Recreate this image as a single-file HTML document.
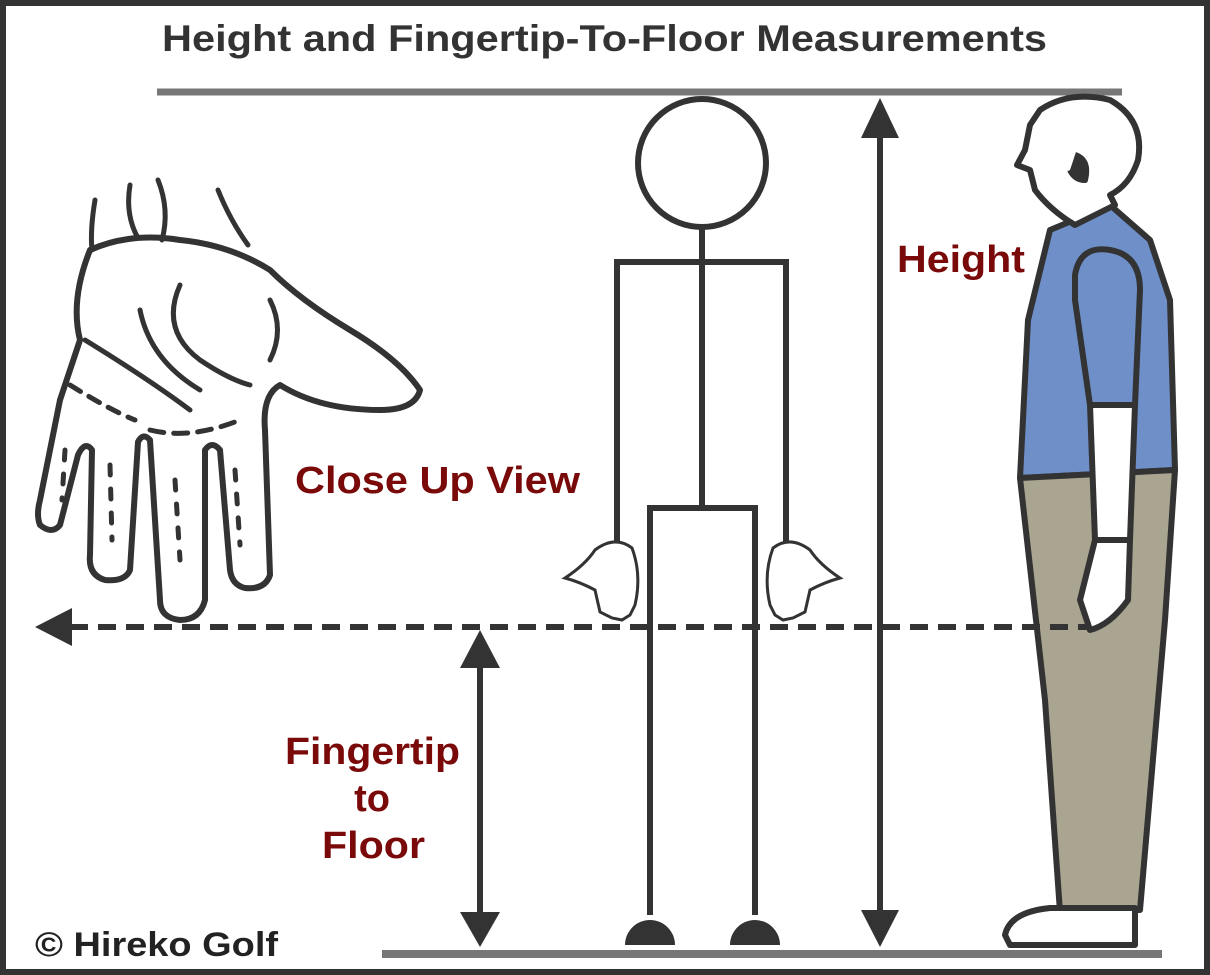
<!DOCTYPE html>
<html><head><meta charset="utf-8"><style>
html,body{margin:0;padding:0;background:#fff}
svg{display:block}
text{font-family:"Liberation Sans",Arial,sans-serif;font-weight:bold}
</style></head><body>
<svg width="1210" height="975" viewBox="0 0 1210 975" xmlns="http://www.w3.org/2000/svg">
<rect x="3" y="3" width="1204" height="969" fill="#fff" stroke="#333" stroke-width="6"/>
<text x="162" y="51" font-size="37" fill="#333" textLength="885" lengthAdjust="spacingAndGlyphs">Height and Fingertip-To-Floor Measurements</text>
<line x1="157" y1="92" x2="1122" y2="92" stroke="#777" stroke-width="7"/>
<line x1="382" y1="954" x2="1162" y2="954" stroke="#777" stroke-width="8"/>

<!-- person right -->
<g stroke="#333" stroke-width="6" stroke-linejoin="round">
<path d="M1050 230 L1110 205 L1150 240 L1170 300 L1175 470 L1020 478 L1028 320 Z" fill="#6f8fc9"/>
<path d="M1020 478 L1175 470 L1165 620 L1140 910 L1060 912 L1045 700 Z" fill="#a9a590"/>
<path d="M1005 935 Q1010 912 1050 908 L1135 908 L1135 945 L1010 945 Z" fill="#fff"/>
<path d="M1075 275 Q1080 245 1110 250 Q1140 255 1140 290 L1135 405 L1090 405 L1075 300 Z" fill="#6f8fc9"/>
<path d="M1090 405 L1135 405 L1130 540 L1095 540 Z" fill="#fff"/>
<path d="M1095 540 L1130 540 L1128 600 Q1110 625 1090 630 L1080 600 Z" fill="#fff"/>
<path d="M1040 110 Q1070 90 1110 100 Q1145 120 1138 160 Q1130 185 1110 195 L1115 205 L1075 225 Q1050 210 1035 190 L1030 170 L1017 165 L1025 150 L1030 125 Z" fill="#fff"/>
<path d="M1075 155 Q1090 160 1085 180 Q1075 180 1070 170" fill="#333"/>
</g>

<!-- stick figure -->
<g stroke="#333" stroke-width="6" fill="none">
<circle cx="702" cy="163" r="64"/>
<line x1="702" y1="228" x2="702" y2="508"/>
<polyline points="617,545 617,262 786,262 786,545"/>
<polyline points="650,915 650,508 755,508 755,915"/>
</g>
<path d="M625 945 A25 25 0 0 1 675 945 Z" fill="#333"/>
<path d="M730 945 A25 25 0 0 1 780 945 Z" fill="#333"/>
<!-- small hands -->
<g stroke="#333" stroke-width="3" fill="#fff">
<path d="M565 578 Q585 565 595 550 Q615 535 632 548 Q642 575 635 605 L630 615 L622 620 L612 618 L600 612 L595 590 Q580 582 565 578 Z"/>
<path d="M840 578 Q820 565 810 550 Q790 535 773 548 Q763 575 770 605 L775 615 L783 620 L793 618 L805 612 L810 590 Q825 582 840 578 Z"/>
</g>

<!-- arrows -->
<g stroke="#333" stroke-width="6">
<line x1="880" y1="125" x2="880" y2="920"/>
<line x1="480" y1="660" x2="480" y2="920"/>
<line x1="70" y1="627" x2="1090" y2="627" stroke-dasharray="18,10"/>
</g>
<g fill="#333">
<polygon points="880,98 861,138 899,138"/>
<polygon points="880,947 861,910 899,910"/>
<polygon points="480,630 460,668 500,668"/>
<polygon points="480,947 460,912 500,912"/>
<polygon points="35,627 72,608 72,646"/>
</g>

<!-- big hand -->
<g stroke="#333" stroke-width="6" fill="#fff" stroke-linejoin="round" stroke-linecap="round">
<path d="M90 250 Q130 232 180 240 Q230 245 270 270 Q300 300 350 330 Q400 360 420 390 Q415 410 380 410 Q320 410 280 385 Q262 395 265 430 L270 575 Q265 590 245 588 Q232 585 230 570 L220 450 Q212 440 205 450 L205 600 Q200 620 180 620 Q160 618 160 600 L150 440 Q143 432 138 442 L130 570 Q125 582 105 580 Q88 575 90 555 L92 450 Q85 440 78 455 L60 525 Q52 535 40 525 Q36 515 40 500 L60 400 Q70 370 80 340 Q70 300 90 250 Z"/>
</g>
<g stroke="#333" stroke-width="5" fill="none" stroke-linecap="round">
<path d="M95 200 Q90 230 92 250"/><path d="M130 185 Q125 215 138 238"/><path d="M158 180 Q170 210 162 240"/><path d="M218 190 Q230 220 248 245"/>
<path d="M180 285 Q160 330 200 360 Q230 380 250 385"/><path d="M140 310 Q150 360 200 390"/><path d="M85 340 Q150 380 190 410"/>
<path d="M270 300 Q285 330 270 360"/>
<path d="M70 385 Q110 410 135 420" stroke-dasharray="12,10"/><path d="M150 430 Q190 440 240 420" stroke-dasharray="14,10"/>
<path d="M65 450 L62 500" stroke-dasharray="10,14"/><path d="M110 465 L112 540" stroke-dasharray="10,14"/><path d="M175 480 L180 560" stroke-dasharray="10,14"/><path d="M235 470 L240 545" stroke-dasharray="10,14"/>
</g>

<g fill="#7a0a0a" font-size="38">
<text x="897" y="272" textLength="128" lengthAdjust="spacingAndGlyphs">Height</text>
<text x="295" y="493" textLength="285" lengthAdjust="spacingAndGlyphs">Close Up View</text>
<text x="285" y="764" textLength="175" lengthAdjust="spacingAndGlyphs">Fingertip</text>
<text x="372" y="811" text-anchor="middle">to</text>
<text x="322" y="858" textLength="103" lengthAdjust="spacingAndGlyphs">Floor</text>
</g>
<text x="35" y="956" font-size="34" fill="#222" textLength="243" lengthAdjust="spacingAndGlyphs">© Hireko Golf</text>
</svg>
</body></html>
